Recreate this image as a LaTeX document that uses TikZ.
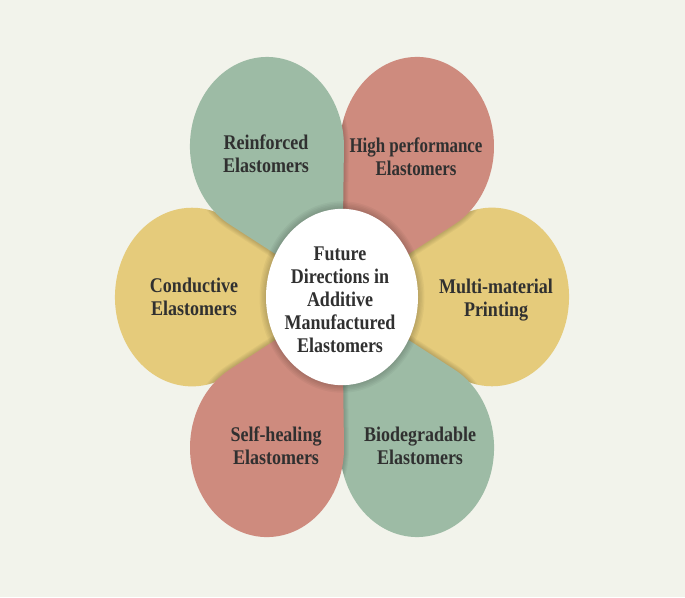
\documentclass[tikz,border=0pt]{standalone}
\usepackage{fontspec}
\setmainfont{Liberation Serif}
\definecolor{bg}{HTML}{F2F3EB}
\definecolor{pgreen}{HTML}{9DBBA5}
\definecolor{psalmon}{HTML}{CE8B7E}
\definecolor{pyellow}{HTML}{E5CB7B}
\definecolor{txt}{HTML}{303030}
\tikzset{
  petal/.style={insert path={(0,0) -- (110.5,66.1) arc[start angle=120.9,end angle=-120.9,radius=77] -- cycle}},
  halo/.style={black, opacity=0.035}
}
\newcommand\petaldraw[2]{% angle, colour
  \begin{scope}[rotate=#1]\fill[#2, petal];\end{scope}}
\newcommand\petalshadow[2]{% angle of lower petal, angle of upper petal
  \begin{scope}[rotate=#1]
    \clip[petal];
    \begin{scope}[rotate={#2-(#1)}]
      \foreach \w in {2,4,6,8,10}{\draw[halo, line width=\w pt, line join=round, petal];}
    \end{scope}
  \end{scope}}
\begin{document}
\begin{tikzpicture}[x=1pt,y=1pt,
  lbl/.style={text=txt, font=\bfseries\fontsize{18}{19.8}\selectfont, align=center, inner sep=0pt}]
\fill[bg] (0,0) rectangle (685,-597);
\path[use as bounding box] (0,0) rectangle (685,-597);
\begin{scope}[shift={(342,-297)}, yscale=1.16, transform shape]
  % yellow petals (lowest)
  \petaldraw{0}{pyellow}
  \petaldraw{180}{pyellow}
  % salmon top right
  \petalshadow{0}{60}
  \petaldraw{60}{psalmon}
  % green bottom right
  \petalshadow{0}{-60}
  \petaldraw{-60}{pgreen}
  % green top left
  \petalshadow{180}{120}
  \petalshadow{60}{120}
  \petaldraw{120}{pgreen}
  % salmon bottom left
  \petalshadow{180}{-120}
  \petalshadow{-60}{-120}
  \petaldraw{-120}{psalmon}
  % centre
  \foreach \i in {1,...,5}{\fill[halo] (0,0) circle[radius=76+\i*1.3];}
  \fill[white] (0,0) circle[radius=76];
  \node[lbl] (centre) at (-2,-2.6) {Future\\Directions in\\Additive\\Manufactured\\Elastomers};
  \node[lbl] (reinf) at (-76,123.3) {Reinforced\\Elastomers};
  \node[lbl, xscale=0.94] (highp) at (74,120.7) {High performance\\Elastomers};
  \node[lbl] (multi) at (154,-2.6) {Multi-material\\Printing};
  \node[lbl] (cond) at (-148,0) {Conductive\\Elastomers};
  \node[lbl] (selfh) at (-66,-128) {Self-healing\\Elastomers};
  \node[lbl] (biod) at (78,-128) {Biodegradable\\Elastomers};
\end{scope}
\end{tikzpicture}
\end{document}
